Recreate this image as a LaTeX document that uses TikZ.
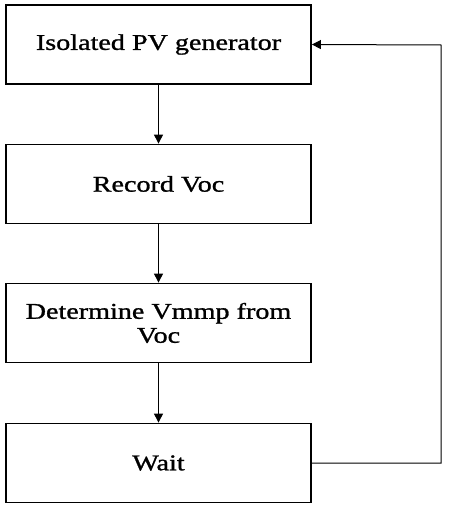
\documentclass[tikz,border=0pt]{standalone}
\usepackage{fontspec}
\usetikzlibrary{arrows.meta}
\newfontfamily\boxfont[FakeStretch=1.25,FakeBold=1.2]{Liberation Serif}
\begin{document}
\begin{tikzpicture}[x=1pt,y=-1pt,
  boxstyle/.style={draw, line width=1.8pt, minimum width=305pt, minimum height=79pt, inner sep=0pt, align=center, font=\boxfont\fontsize{22.5}{24}\selectfont},
  flow/.style={line width=1pt, -{Triangle[length=9pt,width=9pt]}}]
\useasboundingbox (0,0) rectangle (474,506);
\node[boxstyle] (b1) at (158.5,44.5) {Isolated PV generator};
\node[boxstyle] (b2) at (158.5,184) {Record Voc};
\node[boxstyle] (b3) at (158.5,323) {Determine Vmmp from\\Voc};
\node[boxstyle] (b4) at (158.5,463) {Wait};
\coordinate (c1) at (441,463);
\coordinate (c2) at (441,45);
\draw[flow] (b1) -- (b2);
\draw[flow] (b2) -- (b3);
\draw[flow] (b3) -- (b4);
\draw[flow] (b4.east) -- (c1) -- (c2) -- (b1.east);
\end{tikzpicture}
\end{document}
